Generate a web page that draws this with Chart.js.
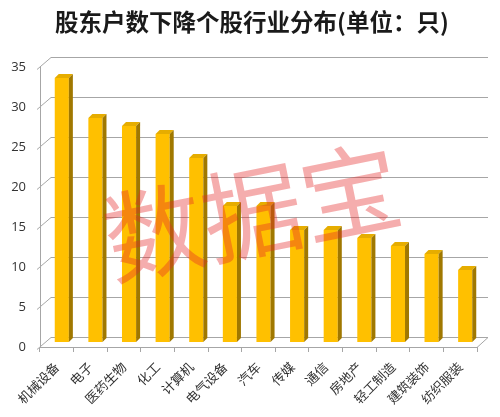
<!DOCTYPE html>
<html>
<head>
<meta charset="utf-8">
<script src="https://cdn.jsdelivr.net/npm/chart.js@4.4.1/dist/chart.umd.min.js"></script>
<style>
  html, body { margin: 0; padding: 0; background: #fff; }
  #wrap { width: 500px; height: 417px; }
</style>
</head>
<body>
<div id="wrap"><canvas id="bar-graph" width="500" height="417"></canvas></div>
<script>
// 股东户数下降个股行业分布
var industries = ['机械设备', '电子', '医药生物', '化工', '计算机', '电气设备', '汽车', '传媒', '通信', '房地产', '轻工制造', '建筑装饰', '纺织服装'];
var stockCounts = [33, 28, 27, 26, 23, 17, 17, 14, 14, 13, 12, 11, 9];
var yTicks = [0, 5, 10, 15, 20, 25, 30, 35];
var chartTitle = '股东户数下降个股行业分布(单位：只)';

var depthX = 11;   // back wall offset
var depthY = 10;
var barShift = 5;  // bars sit half way into the depth
var barDepth = 4;

const chart_ctx = document.getElementById('bar-graph').getContext('2d');

// back wall grid + floor, drawn before the bars
var wallPlugin = {
    id: 'wall',
    beforeDatasetsDraw: function(chart) {
        var ctx = chart.ctx;
        var y = chart.scales.y;
        var area = chart.chartArea;
        ctx.save();
        ctx.strokeStyle = '#a6a6a6';
        ctx.lineWidth = 1;
        for (var i = 0; i < yTicks.length; i++) {
            var py = Math.round(y.getPixelForValue(yTicks[i])) + 0.5;
            ctx.beginPath();
            ctx.moveTo(area.left - 3, py + 2);
            ctx.lineTo(area.left + depthX, py - depthY);
            ctx.lineTo(area.right + depthX, py - depthY);
            ctx.stroke();
        }
        // right edge of the floor
        var by = Math.round(y.getPixelForValue(0)) + 0.5;
        ctx.beginPath();
        ctx.moveTo(area.right, by);
        ctx.lineTo(area.right + depthX, by - depthY);
        ctx.stroke();
        ctx.restore();
        // bars are pushed back into the depth
        ctx.save();
        ctx.translate(barShift, -barShift);
    },
    afterDatasetsDraw: function(chart) {
        var ctx = chart.ctx;
        var bars = chart.getDatasetMeta(0).data;
        for (var i = 0; i < bars.length; i++) {
            var b = bars[i];
            var l = b.x - b.width / 2, r = b.x + b.width / 2;
            // top face
            ctx.fillStyle = '#e6ad00';
            ctx.beginPath();
            ctx.moveTo(l, b.y);
            ctx.lineTo(l + barDepth, b.y - barDepth);
            ctx.lineTo(r + barDepth, b.y - barDepth);
            ctx.lineTo(r, b.y);
            ctx.closePath();
            ctx.fill();
            // side face
            ctx.fillStyle = '#a07800';
            ctx.beginPath();
            ctx.moveTo(r, b.y);
            ctx.lineTo(r + barDepth, b.y - barDepth);
            ctx.lineTo(r + barDepth, b.base - barDepth);
            ctx.lineTo(r, b.base);
            ctx.closePath();
            ctx.fill();
        }
        ctx.restore();
    },
    afterDraw: function(chart) {
        var ctx = chart.ctx;
        // title, centred on the whole picture
        ctx.save();
        ctx.font = 'bold 23.5px "Noto Sans CJK SC"';
        ctx.textAlign = 'center';
        ctx.textBaseline = 'middle';
        ctx.fillStyle = '#1a1a1a';
        ctx.fillText(chartTitle, 252, 22);
        ctx.restore();
        // watermark
        ctx.save();
        ctx.translate(252, 212);
        ctx.rotate(-0.2);
        ctx.font = '100px "Noto Sans CJK SC"';
        ctx.textAlign = 'center';
        ctx.textBaseline = 'middle';
        ctx.fillStyle = 'rgba(230, 40, 40, 0.38)';
        ctx.fillText('数据宝', 0, 0);
        ctx.restore();
    }
};

var bar_graph = new Chart(chart_ctx, {
    type: 'bar',
    data: {
        labels: industries,
        datasets: [{
            data: stockCounts,
            backgroundColor: '#ffc000',
            borderWidth: 0,
            barPercentage: 0.42,
            categoryPercentage: 1
        }]
    },
    options: {
        responsive: false,
        animation: false,
        layout: { padding: { top: 67, right: 23, left: 0, bottom: 0 } },
        plugins: {
            legend: { display: false },
            tooltip: { enabled: false },
            title: { display: false }
        },
        scales: {
            x: {
                grid: { display: true, drawOnChartArea: false, offset: true, tickLength: 5, color: '#a6a6a6' },
                border: { display: true, color: '#a6a6a6' },
                ticks: {
                    autoSkip: false, minRotation: 45, maxRotation: 45,
                    color: '#333', padding: 7,
                    font: { family: '"Noto Sans CJK SC"', size: 13 }
                },
                afterFit: function(scale) { scale.height = 70; }
            },
            y: {
                min: 0, max: 35,
                grid: { display: false },
                border: { display: true, color: '#a6a6a6' },
                ticks: {
                    stepSize: 5, color: '#333', padding: 6,
                    font: { family: 'Open Sans', size: 13 }
                },
                afterFit: function(scale) { scale.width = 40; }
            }
        }
    },
    plugins: [wallPlugin]
});
</script>
</body>
</html>
